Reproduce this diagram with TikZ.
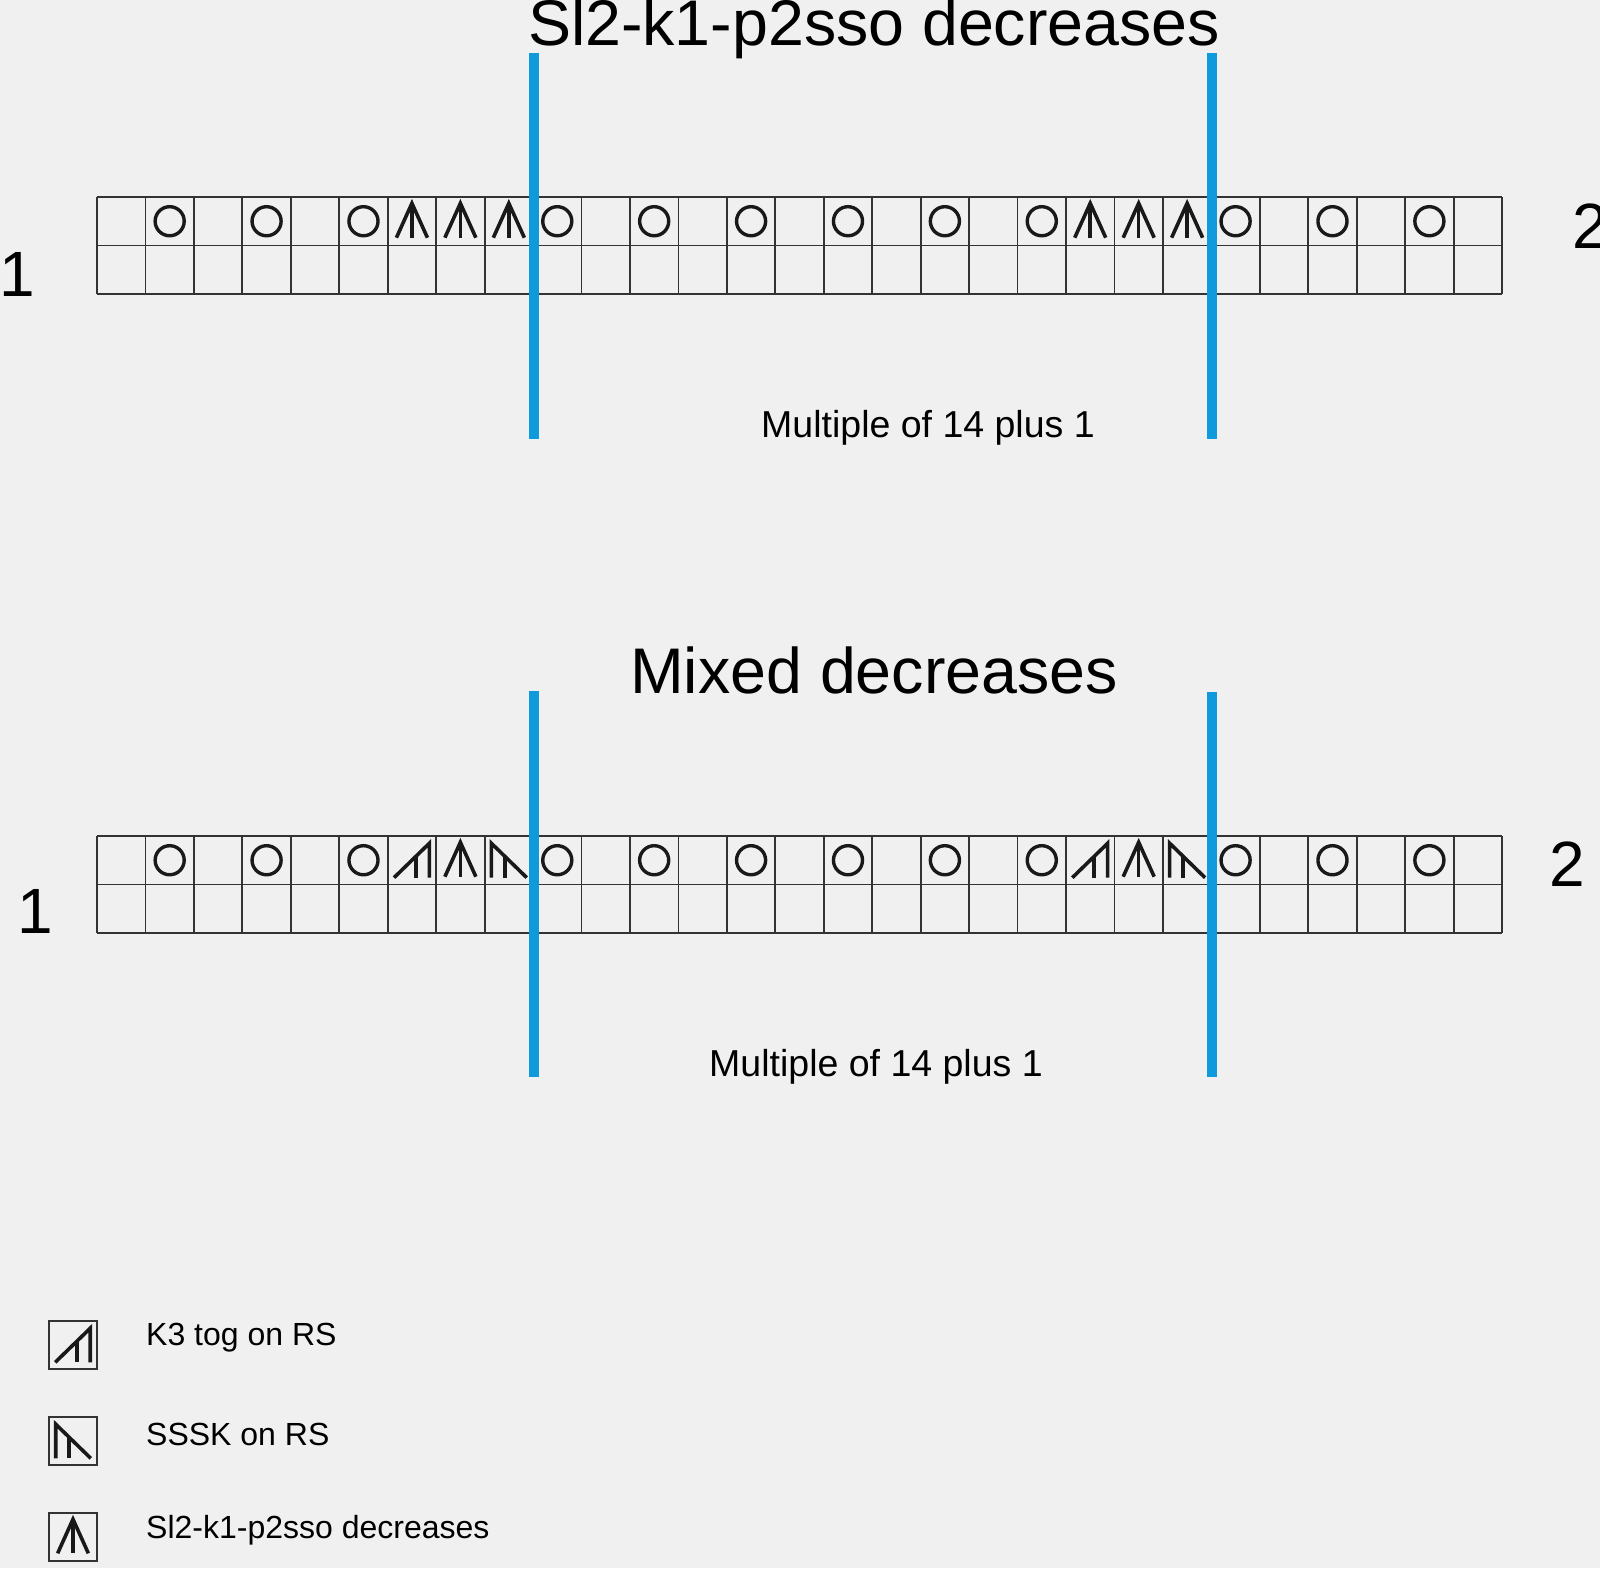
\documentclass[tikz,border=0pt]{standalone}
\usepackage{fontspec}
\setmainfont{Liberation Sans}
\definecolor{bg}{HTML}{F0F0F0}
\definecolor{blueln}{HTML}{0F9ADB}
\definecolor{gridc}{HTML}{333333}
\begin{document}
\begin{tikzpicture}[x=1pt,y=1pt,
  sym/.style={line width=3.6pt,black!90},
  gridl/.style={line width=1.8pt,gridc},
  bluel/.style={line width=10pt,blueln},
  txt/.style={inner sep=0pt,anchor=center},
  pics/ktog/.style={code={\draw[sym] (0.13,-0.86)--(0.86,-0.15)--(0.86,-0.86); \draw[sym] (0.58,-0.42)--(0.58,-0.86);}},
  pics/sssk/.style={code={\draw[sym] (0.87,-0.86)--(0.14,-0.15)--(0.14,-0.86); \draw[sym] (0.42,-0.42)--(0.42,-0.86);}},
  pics/slk/.style={code={\draw[sym] (0.18,-0.84)--(0.5,-0.13)--(0.82,-0.84); \draw[sym] (0.5,-0.13)--(0.5,-0.84);}},
  pics/yo/.style={code={\draw[line width=3.4pt,black!90] (0.5,-0.5) circle (0.3);}}
]
\fill[bg] (0,0) rectangle (1600,-1568);
\useasboundingbox (0,0) rectangle (1600,-1568);
\def\c{48.45}
\foreach \yt/\mix in {197/0,836/1}{
  \foreach \i in {0,...,29}{\draw[gridl] ({97+\i*\c},-\yt) -- ({97+\i*\c},{-\yt-2*\c});}
  \foreach \j in {0,1,2}{\draw[gridl] (97,{-\yt-\j*\c}) -- ({97+29*\c},{-\yt-\j*\c});}
  \foreach \i in {1,3,5,9,11,13,15,17,19,23,25,27}{\pic[scale=\c] at ({97+\i*\c},-\yt) {yo};}
  \foreach \i in {6,20}{
    \ifnum\mix=1
      \pic[scale=\c] at ({97+\i*\c},-\yt) {ktog};
      \pic[scale=\c] at ({97+(\i+2)*\c},-\yt) {sssk};
    \else
      \pic[scale=\c] at ({97+\i*\c},-\yt) {slk};
      \pic[scale=\c] at ({97+(\i+2)*\c},-\yt) {slk};
    \fi
    \pic[scale=\c] at ({97+(\i+1)*\c},-\yt) {slk};
  }
}
\draw[bluel] (534,-53) -- (534,-439);
\draw[bluel] (1212,-53) -- (1212,-439);
\draw[bluel] (534,-691) -- (534,-1077);
\draw[bluel] (1212,-692) -- (1212,-1077);
\node[txt,font=\fontsize{64.5}{70}\selectfont] (t1) at (874,-29) {Sl2-k1-p2sso decreases};
\node[txt,font=\fontsize{64.5}{70}\selectfont] (t2) at (874,-670) {Mixed decreases};
\node[txt,font=\fontsize{37.5}{42}\selectfont] (m1) at (928,-428) {Multiple of 14 plus 1};
\node[txt,font=\fontsize{37.5}{42}\selectfont] (m2) at (876,-1067) {Multiple of 14 plus 1};
\node[txt,font=\fontsize{64}{70}\selectfont] (a1) at (17,-274) {1};
\node[txt,font=\fontsize{64}{70}\selectfont] (b1) at (1590,-226) {2};
\node[txt,font=\fontsize{64}{70}\selectfont] (a2) at (35,-911) {1};
\node[txt,font=\fontsize{64}{70}\selectfont] (b2) at (1567,-864) {2};
\foreach \yt/\p/\t [count=\k] in {1321/ktog/K3 tog on RS,1417/sssk/SSSK on RS,1513/slk/Sl2-k1-p2sso decreases}{
  \draw[gridl] (49,-\yt) rectangle (97,{-\yt-48});
  \pic[scale=48] at (49,-\yt) {\p};
  \node[font=\fontsize{32}{38}\selectfont,anchor=west,inner sep=0pt] (l\k) at (146,{-\yt-17}) {\t};
}
\end{tikzpicture}
\end{document}
